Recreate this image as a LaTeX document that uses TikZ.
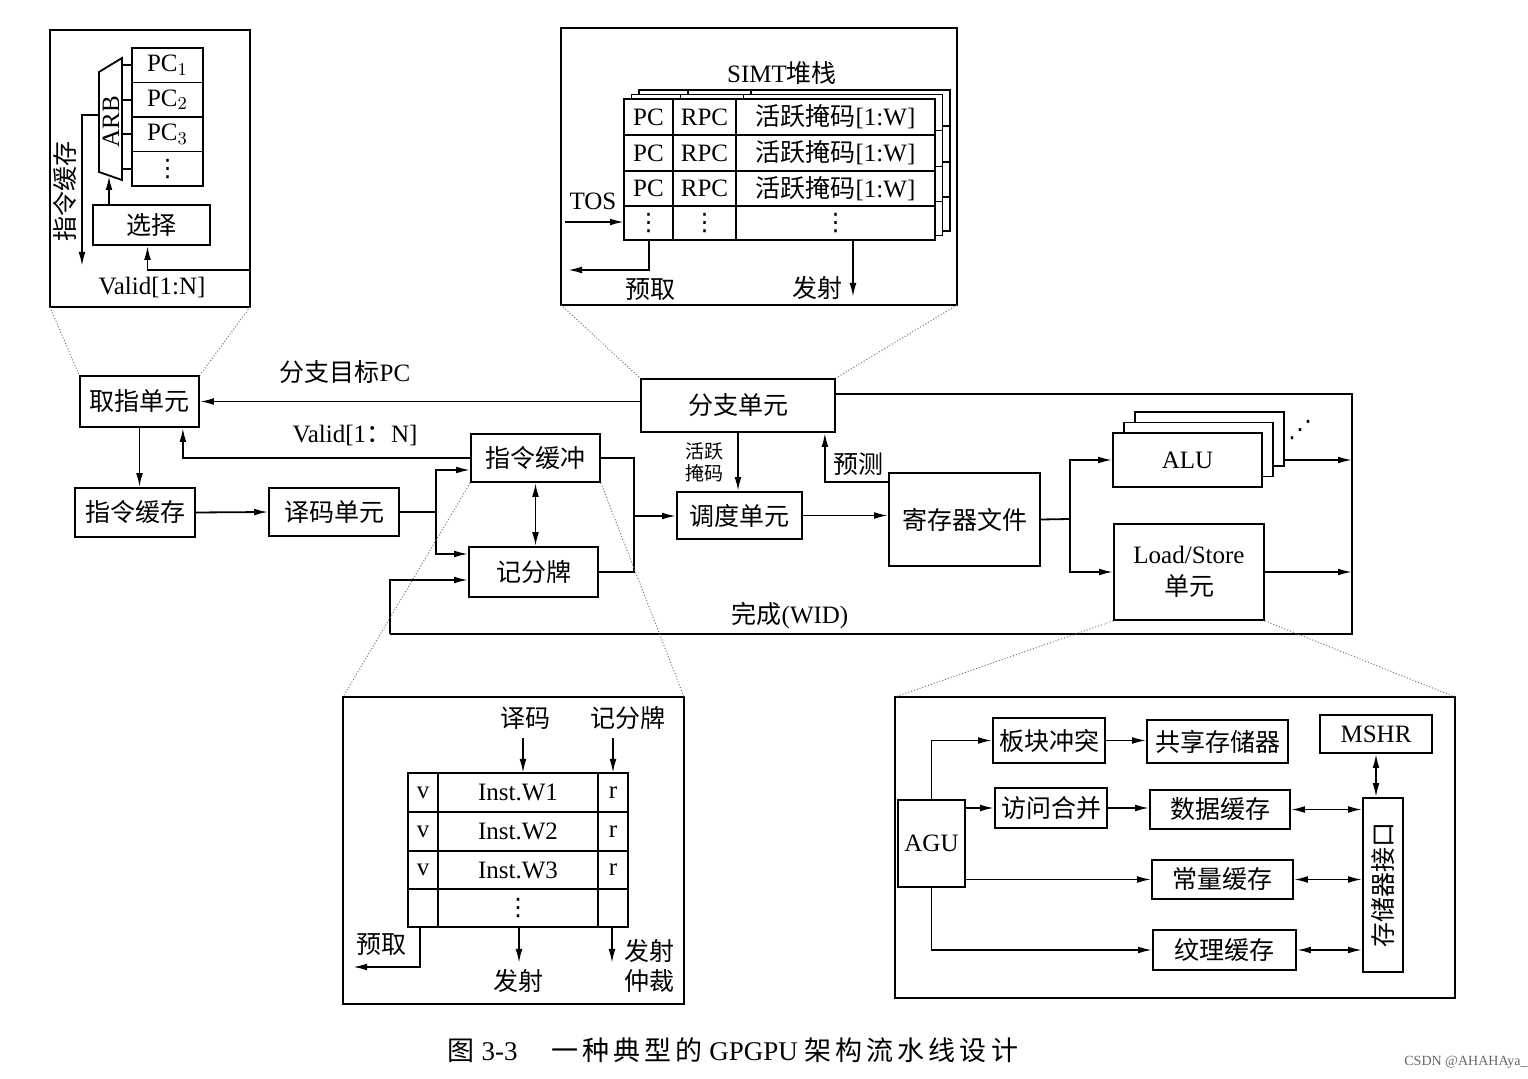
\documentclass[tikz,border=0pt]{standalone}
\usepackage{fontspec}
\setmainfont{Liberation Serif}
\newfontfamily\cjk{Noto Sans CJK SC}
\newfontfamily\cjkcap[LetterSpace=15]{Noto Sans CJK SC}
\newfontfamily\sym{DejaVu Sans}
\usetikzlibrary{arrows.meta}
\newcommand{\zh}[1]{{\cjk #1}}

\begin{document}
\begin{tikzpicture}[x=0.5pt, y=-0.5pt, line width=0.9pt, >={Latex[length=7pt,width=3.4pt]},
  every node/.style={font=\fontsize{12.5}{14}\selectfont, inner sep=1pt},
  box/.style={draw, inner sep=0pt, fill=white},
  sz/.style 2 args={minimum width=#1*0.5pt, minimum height=#2*0.5pt},
  vdot/.style={font=\sym\fontsize{12}{12}\selectfont, inner sep=0pt},
  zoomline/.style={draw=black!55, densely dotted, line width=0.5pt}]
\useasboundingbox (0,0) rectangle (1528,1079);

% main pipeline
\node[box, sz={119}{51}] (fetch) at (139.5,401.5) {\zh{取指单元}};
\node[box, sz={120}{49}] (icache) at (135,512.5) {\zh{指令缓存}};
\node[box, sz={130}{48}] (decode) at (334,512) {\zh{译码单元}};
\node[box, sz={129}{48}] (ibuf) at (535.5,458) {\zh{指令缓冲}};
\node[box, sz={129}{50}] (score) at (533.5,572) {\zh{记分牌}};
\node[box, sz={194}{53}] (branch) at (738,405.5) {\zh{分支单元}};
\node[box, sz={125}{47}] (sched) at (739.5,515.5) {\zh{调度单元}};
\node[box, sz={151}{93}] (regf) at (964.5,519.5) {\zh{寄存器文件}};
\foreach \d in {2,1}
  \draw[fill=white] (1113+11*\d,433-10.5*\d) rectangle ++(149,54);
\node[box, sz={149}{54}] (alu) at (1187.5,460) {ALU};
\node[vdot] (more) at (1300,430) {⋰};
\node[box, sz={150}{96}, align=center] (lsu) at (1189,572) {Load/Store\\[2pt]\zh{单元}};

\coordinate (dj) at (436,512);
\coordinate (sj) at (634,516);
\coordinate (rj) at (1070,519);
\coordinate (ne) at (1352,394);
\coordinate (se) at (1352,634);
\coordinate (sw) at (390,634);

\draw[->] (branch.west |- fetch.east) -- (fetch.east);
\node at (345,372) {\zh{分支目标}PC};
\draw[->] (ibuf.west) -| ([xshift=-8.5pt]fetch.south east);
\node at (355,436) {Valid[1\zh{：}N]};
\draw[->] (fetch.south) -- (fetch.south |- icache.north);
\draw[->] (icache.east) -- (decode.west);
\draw (decode.east) -- (dj);
\draw[->] (dj) |- ([yshift=-6pt]ibuf.west);
\draw[->] (dj) |- ([yshift=9pt]score.west);
\draw[<->] (ibuf.south) -- (ibuf.south |- score.north);
\draw (ibuf.east) -- (ibuf.east -| sj) -- (score.east -| sj) -- (score.east);
\draw[->] (sj) -- (sj -| sched.west);
\draw[->] (branch.south) -- (branch.south |- sched.north);
\node[font=\fontsize{9.5}{11}\selectfont, align=center] at (704,462) {\zh{活跃}\\\zh{掩码}};
\draw[->] ([yshift=-5pt]regf.north west) -| ([xshift=-5.5pt]branch.south east);
\node at (858,464) {\zh{预测}};
\draw[->] (sched.east) -- (sched.east -| regf.west);
\draw (regf.east) -- (rj);
\draw[->] (rj) |- (alu.west);
\draw[->] (rj) |- (lsu.west);
\draw[->] ([xshift=11pt]alu.east) -- (alu.east -| ne);
\draw[->] (lsu.east) -- (lsu.east -| ne);
\draw (branch.east |- ne) -- (ne) -- (se) -- (sw);
\draw[->] (sw) |- ([yshift=-4pt]score.west);
\node at (790,616) {\zh{完成}(WID)};

% fetch unit detail
\draw (50,30) rectangle (250,307);
\draw (132,48) rectangle (203,186);
\foreach \ry in {82.5,117,151.5} \draw (132,\ry) -- (203,\ry);
\coordinate (pcl) at (132,0);
\foreach \i/\t in {1/PC$_1$, 2/PC$_2$, 3/PC$_3$}
  \node (pc\i) at (167.5,30.75+34.5*\i) {\t};
\node[vdot] (pc4) at (167.5,168.75) {⋮};
\draw (99,72) -- (122,58) -- (122,180) -- (99,172) -- cycle;
\node[rotate=90] (arb) at (111,122) {ARB};
\foreach \i in {1,...,4}
  \draw (pc\i.west -| pcl) -- ++(-10,0);
\node[box, sz={117}{40}] (sel) at (151.5,225) {\zh{选择}};
\coordinate (arbb) at (109,176);
\draw[->] (sel.north -| arbb) -- (arbb);
\coordinate (vin) at (250,270);
\draw[->] (vin) -| ([xshift=-2pt]sel.south);
\node at (152,288) {Valid[1:N]};
\coordinate (arbw) at (99,115);
\draw[->] (arbw) -- (82,115) -- (82,266);
\node[rotate=90] at (65,192) {\zh{指令缓存}};
\draw[zoomline] (50,307) -- (fetch.north west);
\draw[zoomline] (250,307) -- (fetch.north east);

% SIMT stack
\draw (561,28) rectangle (957,305);
\node at (782,73) {SIMT\zh{堆栈}};
\foreach \d in {2,1,0} {
  \begin{scope}[shift={(7.5*\d,-4.5*\d)}]
    \draw[fill=white] (624,99) rectangle (935,240);
    \foreach \cx in {673,736} \draw (\cx,99) -- (\cx,240);
    \foreach \ry in {135,171,206} \draw (624,\ry) -- (935,\ry);
  \end{scope}
}
\foreach \ry/\n in {117/1,153/2,188.5/3} {
  \node (spc\n) at (648.5,\ry) {PC};
  \node (srpc\n) at (704.5,\ry) {RPC};
  \node (smask\n) at (835.5,\ry) {\zh{活跃掩码}[1:W]};
}
\node[vdot] (sdot1) at (648.5,223) {⋮};
\node[vdot] (sdot2) at (704.5,223) {⋮};
\node[vdot] (sdot3) at (835.5,223) {⋮};
\node at (593,201) {TOS};
\coordinate (tos) at (565,222);
\draw[->] (tos) -- (624,222);
\draw[->] (649,240) -- (649,270) -- (568,270);
\node at (650,290) {\zh{预取}};
\draw[->] (853,240) -- (853,297);
\node at (817,288) {\zh{发射}};
\draw[zoomline] (561,305) -- (branch.north west);
\draw[zoomline] (957,305) -- (branch.north east);

% instruction buffer detail
\draw (343,697) rectangle (684,1004);
\draw (408,773) rectangle (628,927);
\foreach \cx in {438,598} \draw (\cx,773) -- (\cx,927);
\foreach \ry in {812,851,889} \draw (408,\ry) -- (628,\ry);
\foreach \ry/\n in {792.5/1,831.5/2,870/3} {
  \node (v\n) at (423,\ry) {v};
  \node (inst\n) at (518,\ry) {Inst.W\n};
  \node (r\n) at (613,\ry) {r};
}
\node[vdot] (idots) at (518,908) {⋮};
\node (dec) at (525,718) {\zh{译码}};
\node (sb) at (628,718) {\zh{记分牌}};
\draw[->] (523,738) -- (523,773);
\draw[->] (613,738) -- (613,773);
\draw[->] (519,927) -- (519,963);
\node at (518,981) {\zh{发射}};
\draw[->] (612,927) -- (612,963);
\node[align=center] at (649,966) {\zh{发射}\\[1pt]\zh{仲裁}};
\draw[->] (420,927) -- (420,967) -- (353,967);
\node at (381,945) {\zh{预取}};
\draw[zoomline] (ibuf.south west) -- (343,697);
\draw[zoomline] (ibuf.south east) -- (684,697);

% load/store detail
\draw (895,697) rectangle (1455,998);
\node[box, sz={67}{87}] (agu) at (931.5,843.5) {AGU};
\node[box, sz={112}{45}] (bank) at (1049,740.5) {\zh{板块冲突}};
\node[box, sz={141}{43}] (shmem) at (1217.5,741.5) {\zh{共享存储器}};
\node[box, sz={112}{38}] (mshr) at (1376,734) {MSHR};
\node[box, sz={112}{40}] (coal) at (1051,808) {\zh{访问合并}};
\node[box, sz={140}{39}] (dcache) at (1220,809.5) {\zh{数据缓存}};
\node[box, sz={141}{39}] (ccache) at (1222.5,879.5) {\zh{常量缓存}};
\node[box, sz={143}{40}] (tcache) at (1224.5,950) {\zh{纹理缓存}};
\node[box, sz={40}{174}] (memif) at (1383,885) {\rotatebox{90}{\zh{存储器接口}}};
\draw[->] (agu.north) |- (bank.west);
\draw[->] (agu.east |- coal.west) -- (coal.west);
\draw[->] (bank.east) -- (bank.east -| shmem.west);
\draw[->] (coal.east) -- (coal.east -| dcache.west);
\draw[->] (agu.east |- ccache.west) -- (ccache.west);
\draw[->] (agu.south) |- (tcache.west);
\draw[<->] (dcache.east) -- (dcache.east -| memif.west);
\draw[<->] (ccache.east) -- (ccache.east -| memif.west);
\draw[<->] (tcache.east) -- (tcache.east -| memif.west);
\draw[<->] (mshr.south) -- (mshr.south |- memif.north);
\draw[zoomline] (lsu.south west) -- (895,697);
\draw[zoomline] (lsu.south east) -- (1455,697);

% caption
\node[font=\fontsize{13.5}{16}\selectfont] (cap) at (733,1050)
  {{\cjkcap 图} 3-3\quad\ {\cjkcap 一种典型的} GPGPU {\cjkcap 架构流水线设计}};
\node[font=\fontsize{7}{8}\selectfont, text=black!60] (wm) at (1466,1062) {CSDN @AHAHAya\_};
\end{tikzpicture}
\end{document}
